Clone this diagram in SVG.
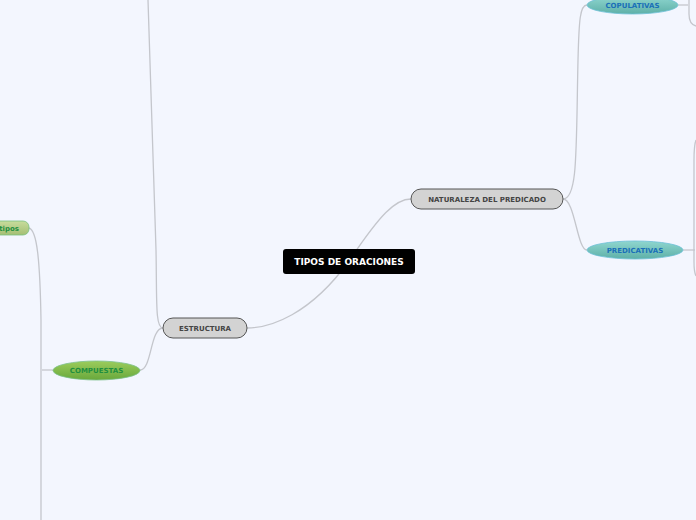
<svg xmlns="http://www.w3.org/2000/svg" width="696" height="520" viewBox="0 0 696 520">
<defs>
<linearGradient id="gTeal" x1="0" y1="0" x2="0" y2="1"><stop offset="0" stop-color="#8fd6cf"/><stop offset="1" stop-color="#5eb0a8"/></linearGradient>
<linearGradient id="gGreen" x1="0" y1="0" x2="0" y2="1"><stop offset="0" stop-color="#9ccc5c"/><stop offset="1" stop-color="#68a83c"/></linearGradient>
<linearGradient id="gOlive" x1="0" y1="0" x2="0" y2="1"><stop offset="0" stop-color="#c8dc9c"/><stop offset="1" stop-color="#a4bf74"/></linearGradient>
</defs>
<style>
.lnk{fill:none;stroke:#c4c6cc;stroke-width:1.3}
.txt{font-family:"DejaVu Sans",Verdana,sans-serif;font-weight:bold;text-anchor:middle;dominant-baseline:central}
.gray{fill:#d3d3d3;stroke:#555;stroke-width:1}
</style>
<rect width="696" height="520" fill="#f3f6fe"/>
<g id="connectors">
<path class="lnk" d="M349,261 C380,215 395,199 411,199"/>
<path class="lnk" d="M349,261 C310,315 270,328 247,328"/>
<path class="lnk" d="M563,199 C578,199 576,150 578,60 C579,20 580,5 587,5"/>
<path class="lnk" d="M563,199 C575,199 577,250 587,250"/>
<path class="lnk" d="M163,328 C155,328 157,300 156,250 L148,0"/>
<path class="lnk" d="M163,328 C150,328 152,370 140,370"/>
<path class="lnk" d="M678,5 L688,5"/>
<path class="lnk" d="M689,0 L689,14 C689,22 692,25 696,26"/>
<path class="lnk" d="M683,250 L695,250"/>
<path class="lnk" d="M696,140 C694,145 694,150 694,160 L694,262 C694,270 695,274 696,276"/>
<path class="lnk" d="M53,370 L42,370"/>
<path class="lnk" d="M29,228 C37,230 40,260 41,320 L41,520"/>
</g>
<g id="n-center">
<rect x="283" y="249" width="132" height="25" rx="3" fill="#000"/>
<text class="txt" x="349" y="262" font-size="9" fill="#fff">TIPOS DE ORACIONES</text>
</g>
<g id="n-naturaleza">
<rect class="gray" x="411" y="189" width="152" height="20" rx="10"/>
<text class="txt" x="487" y="199.5" font-size="7" fill="#444">NATURALEZA DEL PREDICADO</text>
</g>
<g id="n-estructura">
<rect class="gray" x="163" y="318" width="84" height="20" rx="10"/>
<text class="txt" x="205" y="328.5" font-size="7" fill="#444">ESTRUCTURA</text>
</g>
<g id="n-copulativas">
<ellipse cx="632.5" cy="5" rx="45.5" ry="9" fill="url(#gTeal)" stroke="#6bbfd6" stroke-width="0.8"/>
<text class="txt" x="632.5" y="5.5" font-size="7" fill="#1a6fb8">COPULATIVAS</text>
</g>
<g id="n-predicativas">
<ellipse cx="635" cy="250" rx="48" ry="9" fill="url(#gTeal)" stroke="#6bbfd6" stroke-width="0.8"/>
<text class="txt" x="635" y="250.5" font-size="7" fill="#1a6fb8">PREDICATIVAS</text>
</g>
<g id="n-compuestas">
<ellipse cx="96.5" cy="370.5" rx="43.5" ry="9.5" fill="url(#gGreen)" stroke="#7cc08a" stroke-width="0.8"/>
<text class="txt" x="96.5" y="371" font-size="7" fill="#1f8f3f">COMPUESTAS</text>
</g>
<g id="n-tipos">
<rect x="-20" y="221" width="49" height="14" rx="6" fill="url(#gOlive)" stroke="#79c07f" stroke-width="0.8"/>
<text class="txt" x="9" y="228.5" font-size="7" fill="#1f8f3f">tipos</text>
</g>
</svg>
